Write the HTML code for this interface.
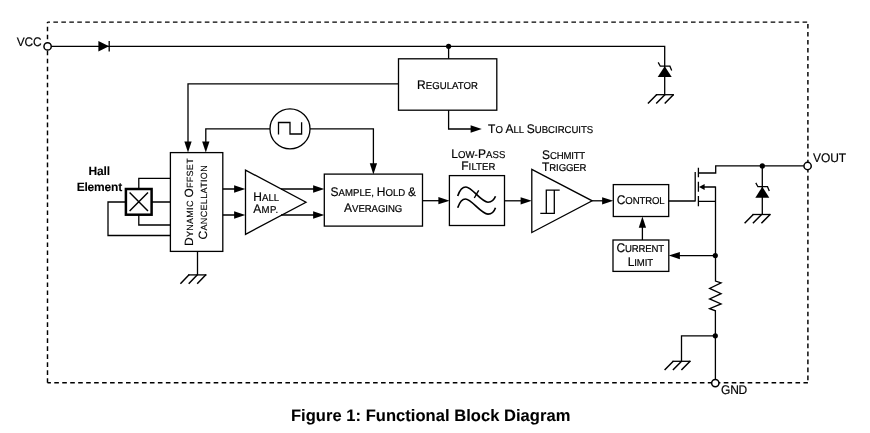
<!DOCTYPE html>
<html lang="en">
<head>
<meta charset="utf-8">
<title>Figure 1: Functional Block Diagram</title>
<style>
html,body{margin:0;padding:0;background:#fff;}
body{width:870px;height:433px;overflow:hidden;}
.fig{position:relative;width:870px;height:433px;overflow:hidden;background:#fff;will-change:transform;
font-family:"Liberation Sans",Arial,Helvetica,sans-serif;text-rendering:geometricPrecision;}
.fig svg{position:absolute;left:0;top:0;display:block;}
.t{position:absolute;left:0;top:0;margin:0;white-space:nowrap;line-height:16px;color:#000;
-webkit-text-stroke:0.18px #000;transform-origin:0 0;}
.t b{font-weight:normal;display:inline-block;}
.t b::first-letter{font-size:12px;}
.t i{font-style:normal;font-size:12px;}
.t.bd{font-weight:bold;-webkit-text-stroke-width:0.08px;}
.t.v{-webkit-text-stroke-width:0.12px;}
.l{fill:none;stroke:#000;stroke-width:1.3;stroke-linejoin:miter;}
.b{fill:#fff;stroke:#000;stroke-width:1.3;}
.f{fill:#000;stroke:none;}
.p{fill:#fff;stroke:#000;stroke-width:1.5;}
.d{fill:none;stroke:#000;stroke-width:1.45;}
</style>
</head>
<body>
<div class="fig">
<svg width="870" height="433" viewBox="0 0 870 433">
<rect x="0" y="0" width="870" height="433" fill="#fff"/>
<path class="d" stroke-dasharray="4.6 3.39" stroke-dashoffset="0.1" d="M47.5 382.8 V22.1"/>
<path class="d" stroke-dasharray="4.6 3.37" stroke-dashoffset="2.1" d="M47.5 22.1 H807.9"/>
<path class="d" stroke-dasharray="4.6 3.39" stroke-dashoffset="6.09" d="M807.9 22.1 V382.8"/>
<path class="d" stroke-dasharray="4.6 3.37" stroke-dashoffset="0.15" d="M807.9 382.8 H47.5"/>
<path class="l" d="M51 46.3 H664.7 V94.7"/>
<path class="f" d="M98.4 41 L109 46.3 L98.4 51.6 Z"/>
<path class="l" d="M109.2 41 V51.6"/>
<path class="f" d="M664.7 66.2 L657.7 77 L671.7 77 Z"/><path class="l" d="M658.2 62.4 L660.3 66.2 H669.9 L671.7 70.5"/>
<path class="l" d="M655.9 94.7 H673.9"/><path class="l" style="stroke-width:1.5" d=" M656.8 94.4 L647.9 103.5 M665.1 94.4 L656.2 103.5 M673.6 94.4 L664.7 103.5"/>
<circle class="f" cx="448.6" cy="46.3" r="2.6"/>
<path class="l" d="M448.6 46.3 V58.8"/>
<rect class="b" x="398.5" y="58.8" width="98.3" height="51.4"/>
<path class="l" d="M398.5 83.8 H188 V143"/>
<path class="f" d="M188 152.6 L184.35 141.4 L191.65 141.4 Z"/>
<path class="l" d="M448.6 110.2 V129 H472"/>
<path class="f" d="M481.8 129 L470.6 125.35 L470.6 132.65 Z"/>
<circle class="b" cx="290" cy="128.9" r="20"/>
<path class="l" d="M278.5 134.6 V122.5 H290 V134 H301.6 V122.2"/>
<path class="l" d="M270 128.9 H205.8 V143"/>
<path class="f" d="M205.8 152.6 L202.15 141.4 L209.45 141.4 Z"/>
<path class="l" d="M310 128.9 H373.4 V165"/>
<path class="f" d="M373.4 174.4 L369.75 163.2 L377.05 163.2 Z"/>
<rect class="b" x="170.4" y="152.6" width="52.4" height="98.8"/>
<path class="l" d="M197.5 251.4 V274.9"/>
<path class="l" d="M188.4 274.9 H206.4"/><path class="l" style="stroke-width:1.5" d=" M189.3 274.6 L180.4 283.7 M197.6 274.6 L188.7 283.7 M206.1 274.6 L197.2 283.7"/>
<path class="l" d="M138.8 188 V178.4 H170.4 M152 202 H170.4 M126 202 H108 V235.5 H170.4 M138.8 215 V225 H170.4"/>
<rect x="125.9" y="189" width="25.7" height="25.7" fill="#fff" stroke="#000" stroke-width="2.5"/>
<path class="l" style="stroke-width:1.45" d="M129.6 192.6 L148 211.1 M148 192.6 L129.6 211.1"/>
<path class="l" d="M222.8 189 H236 M222.8 215 H236"/>
<path class="f" d="M245.3 189 L234.1 185.35 L234.1 192.65 Z"/>
<path class="f" d="M245.3 215 L234.1 211.35 L234.1 218.65 Z"/>
<path class="b" d="M245.5 170.1 V234.3 L306 202.2 Z"/>
<path class="l" d="M281 189 H315 M281 215 H315"/>
<path class="f" d="M324.3 189 L313.1 185.35 L313.1 192.65 Z"/>
<path class="f" d="M324.3 215 L313.1 211.35 L313.1 218.65 Z"/>
<rect class="b" x="324.3" y="174.1" width="98.2" height="52"/>
<path class="l" d="M422.5 200.7 H441"/>
<path class="f" d="M449.6 200.7 L438.4 197.05 L438.4 204.35 Z"/>
<rect class="b" x="449.4" y="175.6" width="55.1" height="49.9"/>
<path class="l" style="stroke-width:1.65" d="M457.7 195.9 C459.5 190.7 462 187 465.9 187 C472 187 481 202.2 488 202.2 C491.5 202.2 494 200.2 495.5 196.3"/>
<path class="l" style="stroke-width:1.65" d="M457.7 207.7 C459.5 202.5 461.8 199 465.5 199 C471.6 199 481 214.1 488 214.1 C491.5 214.1 494 212 495.5 207.7"/>
<path class="l" style="stroke-width:1.4" d="M474.3 198 L478.7 190.4"/>
<path class="l" d="M504.5 200.8 H523"/>
<path class="f" d="M531.8 200.8 L520.6 197.15 L520.6 204.45 Z"/>
<path class="b" d="M531.8 169.3 V232.5 L592.2 200.8 Z"/>
<path class="l" d="M540.3 213.3 H554.3 V190.2 M546.3 213.3 V190.2 H559.7"/>
<path class="l" d="M592.2 200.8 H604"/>
<path class="f" d="M613.3 200.8 L602.1 197.15 L602.1 204.45 Z"/>
<rect class="b" x="613.3" y="184.6" width="55.4" height="31.9"/>
<path class="l" d="M642.4 240 V226"/>
<path class="f" d="M642.4 216.5 L638.75 227.7 L646.05 227.7 Z"/>
<rect class="b" x="613" y="240" width="55.8" height="31.4"/>
<path class="l" d="M678 255.6 H715.3"/>
<path class="f" d="M668.7 255.6 L679.9 251.95 L679.9 259.25 Z"/>
<path class="l" d="M668.7 201 H695.2 M695.2 172 V201.6"/>
<path class="l" d="M698.4 167.7 V177.3 M698.4 181.8 V191.8 M698.4 196 V206.2"/>
<path class="l" d="M698.4 173 H715.7 V165.9 H803.8"/>
<path class="l" d="M704 187 H715.5 M698.4 201.4 H715.5"/>
<path class="f" d="M699 187 L704.6 184 L704.6 190 Z"/>
<path class="l" d="M715.5 186.5 V281 L721.1 282.9 L709.6 288.4 L721.1 293.7 L709.6 298.9 L721.1 303.9 L709.6 308.7 L715.4 310.8 V379.5"/>
<circle class="f" cx="715.3" cy="255.6" r="2.6"/>
<circle class="f" cx="715.3" cy="335.8" r="2.6"/>
<circle class="f" cx="762.3" cy="165.9" r="2.6"/>
<path class="l" d="M762.3 165.9 V214.5"/>
<path class="f" d="M762.3 186.7 L755.3 197.7 L769.3 197.7 Z"/><path class="l" d="M755.8 182.9 L757.9 186.7 H767.5 L769.3 191.0"/>
<path class="l" d="M752.6 214.5 H770.6"/><path class="l" style="stroke-width:1.5" d=" M753.5 214.2 L744.6 223.3 M761.8 214.2 L752.9 223.3 M770.3 214.2 L761.4 223.3"/>
<path class="l" d="M715.3 335.8 H681.5 V361.3"/>
<path class="l" d="M672.6 361.3 H690.6"/><path class="l" style="stroke-width:1.5" d=" M673.5 361.0 L664.6 370.1 M681.8 361.0 L672.9 370.1 M690.3 361.0 L681.4 370.1"/>
<circle class="p" cx="47.6" cy="46.4" r="3.65"/>
<circle class="p" cx="807.6" cy="166" r="3.65"/>
<circle class="p" cx="715.3" cy="383.1" r="3.65"/>
</svg>
<div class="t sc" style="font-size:9.6px;letter-spacing:0.02px;transform-origin:0 12px;transform:translate(417.10px,77.10px) scaleY(1.04);"><b>REGULATOR</b></div>
<div class="t sc" style="font-size:9.6px;letter-spacing:-0.02px;transform-origin:0 12px;transform:translate(488.10px,120.80px) scaleY(1.04);"><b>TO</b> <b>ALL</b> <b>SUBCIRCUITS</b></div>
<div class="t sc v" style="font-size:9px;letter-spacing:0.27px;transform-origin:0 12px;transform:translate(192.60px,233.90px) rotate(-90deg);"><b>DYNAMIC</b> <b>OFFSET</b></div>
<div class="t sc v" style="font-size:9px;letter-spacing:0.33px;transform-origin:0 12px;transform:translate(206.50px,227.50px) rotate(-90deg);"><b>CANCELLATION</b></div>
<div class="t bd" style="font-size:12px;letter-spacing:-0.17px;transform-origin:0 12px;transform:translate(88.50px,162.90px);">Hall</div>
<div class="t bd" style="font-size:12px;letter-spacing:-0.21px;transform-origin:0 12px;transform:translate(76.70px,178.60px);">Element</div>
<div class="t sc" style="font-size:9.6px;letter-spacing:0.08px;transform-origin:0 12px;transform:translate(253.20px,189.00px) scaleY(1.04);"><b>HALL</b></div>
<div class="t sc" style="font-size:9.6px;letter-spacing:0.35px;transform-origin:0 12px;transform:translate(253.20px,200.90px) scaleY(1.04);"><b>AMP.</b></div>
<div class="t sc" style="font-size:9.6px;letter-spacing:0.04px;transform-origin:0 12px;transform:translate(330.50px,183.70px) scaleY(1.04);"><b>SAMPLE,</b> <b>HOLD</b> <i>&amp;</i></div>
<div class="t sc" style="font-size:9.6px;letter-spacing:-0.06px;transform-origin:0 12px;transform:translate(344.10px,200.00px) scaleY(1.04);"><b>AVERAGING</b></div>
<div class="t sc" style="font-size:9.6px;letter-spacing:0.12px;transform-origin:0 12px;transform:translate(451.20px,146.00px) scaleY(1.04);"><b>LOW-</b><b>PASS</b></div>
<div class="t sc" style="font-size:9.6px;letter-spacing:0.09px;transform-origin:0 12px;transform:translate(461.20px,158.00px) scaleY(1.04);"><b>FILTER</b></div>
<div class="t sc" style="font-size:9.6px;letter-spacing:-0.19px;transform-origin:0 12px;transform:translate(542.10px,147.30px) scaleY(1.04);"><b>SCHMITT</b></div>
<div class="t sc" style="font-size:9.6px;letter-spacing:-0.13px;transform-origin:0 12px;transform:translate(542.10px,158.90px) scaleY(1.04);"><b>TRIGGER</b></div>
<div class="t sc" style="font-size:9.6px;letter-spacing:-0.14px;transform-origin:0 12px;transform:translate(616.80px,192.40px) scaleY(1.04);"><b>CONTROL</b></div>
<div class="t sc" style="font-size:9.6px;letter-spacing:-0.19px;transform-origin:0 12px;transform:translate(616.50px,239.90px) scaleY(1.04);"><b>CURRENT</b></div>
<div class="t sc" style="font-size:9.6px;letter-spacing:-0.14px;transform-origin:0 12px;transform:translate(627.80px,253.60px) scaleY(1.04);"><b>LIMIT</b></div>
<div class="t pl" style="font-size:11.9px;letter-spacing:-0.15px;transform-origin:0 12px;transform:translate(16.70px,33.70px) scaleY(1.04);">VCC</div>
<div class="t pl" style="font-size:12px;letter-spacing:-0.05px;transform-origin:0 12px;transform:translate(813.00px,149.50px) scaleY(1.04);">VOUT</div>
<div class="t pl" style="font-size:12px;letter-spacing:-0.29px;transform-origin:0 12px;transform:translate(721.10px,382.40px) scaleY(1.04);">GND</div>
<div class="t bd" style="font-size:16.5px;letter-spacing:0.05px;transform-origin:0 13px;transform:translate(290.90px,407.70px);">Figure 1: Functional Block Diagram</div>
</div>
</body>
</html>
